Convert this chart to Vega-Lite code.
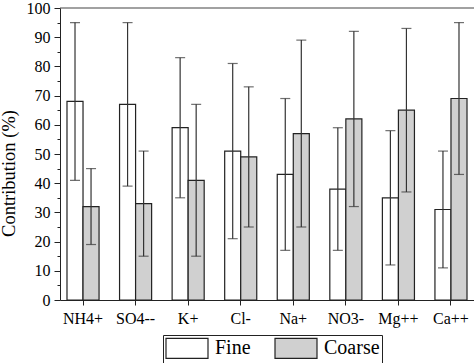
{
  "$schema": "https://vega.github.io/schema/vega-lite/v6.json",
  "width": 414,
  "height": 292,
  "autosize": {"type": "none"},
  "padding": {"left": 60, "top": 8, "right": 0, "bottom": 63},
  "background": "white",
  "config": {
    "view": {"stroke": null},
    "font": "Liberation Serif",
    "axis": {"labelColor": "#000", "titleColor": "#000", "domainColor": "#222", "tickColor": "#222", "grid": false},
    "legend": {"labelFont": "Liberation Serif"}
  },
  "datasets": {
    "ions": [
      {"ion": "NH4+", "type": "Fine", "value": 68, "low": 41, "high": 95},
      {"ion": "NH4+", "type": "Coarse", "value": 32, "low": 19, "high": 45},
      {"ion": "SO4--", "type": "Fine", "value": 67, "low": 39, "high": 95},
      {"ion": "SO4--", "type": "Coarse", "value": 33, "low": 15, "high": 51},
      {"ion": "K+", "type": "Fine", "value": 59, "low": 35, "high": 83},
      {"ion": "K+", "type": "Coarse", "value": 41, "low": 15, "high": 67},
      {"ion": "Cl-", "type": "Fine", "value": 51, "low": 21, "high": 81},
      {"ion": "Cl-", "type": "Coarse", "value": 49, "low": 25, "high": 73},
      {"ion": "Na+", "type": "Fine", "value": 43, "low": 17, "high": 69},
      {"ion": "Na+", "type": "Coarse", "value": 57, "low": 25, "high": 89},
      {"ion": "NO3-", "type": "Fine", "value": 38, "low": 17, "high": 59},
      {"ion": "NO3-", "type": "Coarse", "value": 62, "low": 32, "high": 92},
      {"ion": "Mg++", "type": "Fine", "value": 35, "low": 12, "high": 58},
      {"ion": "Mg++", "type": "Coarse", "value": 65, "low": 37, "high": 93},
      {"ion": "Ca++", "type": "Fine", "value": 31, "low": 11, "high": 51},
      {"ion": "Ca++", "type": "Coarse", "value": 69, "low": 43, "high": 95}
    ],
    "frame": [{"top": 100}]
  },
  "layer": [
    {
      "data": {"name": "ions"},
      "mark": {"type": "bar", "stroke": "#222", "strokeWidth": 1.2},
      "encoding": {
        "x": {
          "field": "ion", "type": "nominal", "sort": null, "title": null,
          "scale": {"paddingInner": 0.39, "paddingOuter": 0.133},
          "axis": {"labelAngle": 0, "tickSize": 5, "labelPadding": 5, "labelFontSize": 16, "labelFont": "Liberation Serif"}
        },
        "xOffset": {"field": "type", "type": "nominal", "scale": {"domain": ["Fine", "Coarse"]}},
        "y": {
          "field": "value", "type": "quantitative", "title": "Contribution (%)",
          "scale": {"domain": [0, 100], "nice": false},
          "axis": {
            "values": [0, 5, 10, 15, 20, 25, 30, 35, 40, 45, 50, 55, 60, 65, 70, 75, 80, 85, 90, 95, 100],
            "labelExpr": "datum.value % 10 === 0 ? datum.label : ''",
            "tickSize": {"condition": {"test": "datum.value % 10 === 0", "value": 6}, "value": 3},
            "labelOverlap": false, "labelFontSize": 16, "labelPadding": 4, "labelFont": "Liberation Serif",
            "titleFont": "Liberation Serif", "titleFontSize": 18.5, "titleFontWeight": "normal", "titlePadding": 8, "titleY": 165
          }
        },
        "fill": {
          "field": "type", "type": "nominal",
          "scale": {"domain": ["Fine", "Coarse"], "range": ["#ffffff", "#d0d0d0"]},
          "legend": {
            "orient": "none", "legendX": 103, "legendY": 327, "direction": "horizontal", "title": null,
            "symbolType": "M-1,-1H3.2V1H-1Z", "symbolSize": 400,
            "symbolStrokeColor": "#222", "symbolStrokeWidth": 1.2,
            "labelFontSize": 20, "labelFont": "Liberation Serif", "labelColor": "#000",
            "labelOffset": 28, "columnPadding": 21, "padding": 2, "strokeColor": "#222"
          }
        }
      }
    },
    {
      "data": {"name": "ions"},
      "mark": {"type": "rule", "color": "#333", "strokeWidth": 1.2},
      "encoding": {
        "x": {"field": "ion", "type": "nominal", "sort": null, "title": null,
          "axis": {"labelAngle": 0, "tickSize": 5, "labelPadding": 5, "labelFontSize": 16, "labelFont": "Liberation Serif"}},
        "xOffset": {"field": "type", "type": "nominal", "scale": {"domain": ["Fine", "Coarse"]}},
        "y": {
          "field": "low", "type": "quantitative", "title": "Contribution (%)",
          "axis": {
            "values": [0, 5, 10, 15, 20, 25, 30, 35, 40, 45, 50, 55, 60, 65, 70, 75, 80, 85, 90, 95, 100],
            "labelExpr": "datum.value % 10 === 0 ? datum.label : ''",
            "tickSize": {"condition": {"test": "datum.value % 10 === 0", "value": 6}, "value": 3},
            "labelOverlap": false, "labelFontSize": 16, "labelPadding": 4, "labelFont": "Liberation Serif",
            "titleFont": "Liberation Serif", "titleFontSize": 18.5, "titleFontWeight": "normal", "titlePadding": 8, "titleY": 165
          }
        },
        "y2": {"field": "high"}
      }
    },
    {
      "data": {"name": "ions"},
      "mark": {"type": "tick", "color": "#333", "size": 10, "thickness": 1.2},
      "encoding": {
        "x": {"field": "ion", "type": "nominal", "sort": null, "title": null,
          "axis": {"labelAngle": 0, "tickSize": 5, "labelPadding": 5, "labelFontSize": 16, "labelFont": "Liberation Serif"}},
        "xOffset": {"field": "type", "type": "nominal", "scale": {"domain": ["Fine", "Coarse"]}},
        "y": {
          "field": "low", "type": "quantitative", "title": "Contribution (%)",
          "axis": {
            "values": [0, 5, 10, 15, 20, 25, 30, 35, 40, 45, 50, 55, 60, 65, 70, 75, 80, 85, 90, 95, 100],
            "labelExpr": "datum.value % 10 === 0 ? datum.label : ''",
            "tickSize": {"condition": {"test": "datum.value % 10 === 0", "value": 6}, "value": 3},
            "labelOverlap": false, "labelFontSize": 16, "labelPadding": 4, "labelFont": "Liberation Serif",
            "titleFont": "Liberation Serif", "titleFontSize": 18.5, "titleFontWeight": "normal", "titlePadding": 8, "titleY": 165
          }
        }
      }
    },
    {
      "data": {"name": "ions"},
      "mark": {"type": "tick", "color": "#333", "size": 10, "thickness": 1.2},
      "encoding": {
        "x": {"field": "ion", "type": "nominal", "sort": null, "title": null,
          "axis": {"labelAngle": 0, "tickSize": 5, "labelPadding": 5, "labelFontSize": 16, "labelFont": "Liberation Serif"}},
        "xOffset": {"field": "type", "type": "nominal", "scale": {"domain": ["Fine", "Coarse"]}},
        "y": {
          "field": "high", "type": "quantitative", "title": "Contribution (%)",
          "axis": {
            "values": [0, 5, 10, 15, 20, 25, 30, 35, 40, 45, 50, 55, 60, 65, 70, 75, 80, 85, 90, 95, 100],
            "labelExpr": "datum.value % 10 === 0 ? datum.label : ''",
            "tickSize": {"condition": {"test": "datum.value % 10 === 0", "value": 6}, "value": 3},
            "labelOverlap": false, "labelFontSize": 16, "labelPadding": 4, "labelFont": "Liberation Serif",
            "titleFont": "Liberation Serif", "titleFontSize": 18.5, "titleFontWeight": "normal", "titlePadding": 8, "titleY": 165
          }
        }
      }
    },
    {
      "data": {"name": "frame"},
      "mark": {"type": "rule", "color": "#444", "strokeWidth": 1.2},
      "encoding": {
        "y": {
          "field": "top", "type": "quantitative", "title": "Contribution (%)",
          "axis": {
            "values": [0, 5, 10, 15, 20, 25, 30, 35, 40, 45, 50, 55, 60, 65, 70, 75, 80, 85, 90, 95, 100],
            "labelExpr": "datum.value % 10 === 0 ? datum.label : ''",
            "tickSize": {"condition": {"test": "datum.value % 10 === 0", "value": 6}, "value": 3},
            "labelOverlap": false, "labelFontSize": 16, "labelPadding": 4, "labelFont": "Liberation Serif",
            "titleFont": "Liberation Serif", "titleFontSize": 18.5, "titleFontWeight": "normal", "titlePadding": 8, "titleY": 165
          }
        }
      }
    }
  ]
}
